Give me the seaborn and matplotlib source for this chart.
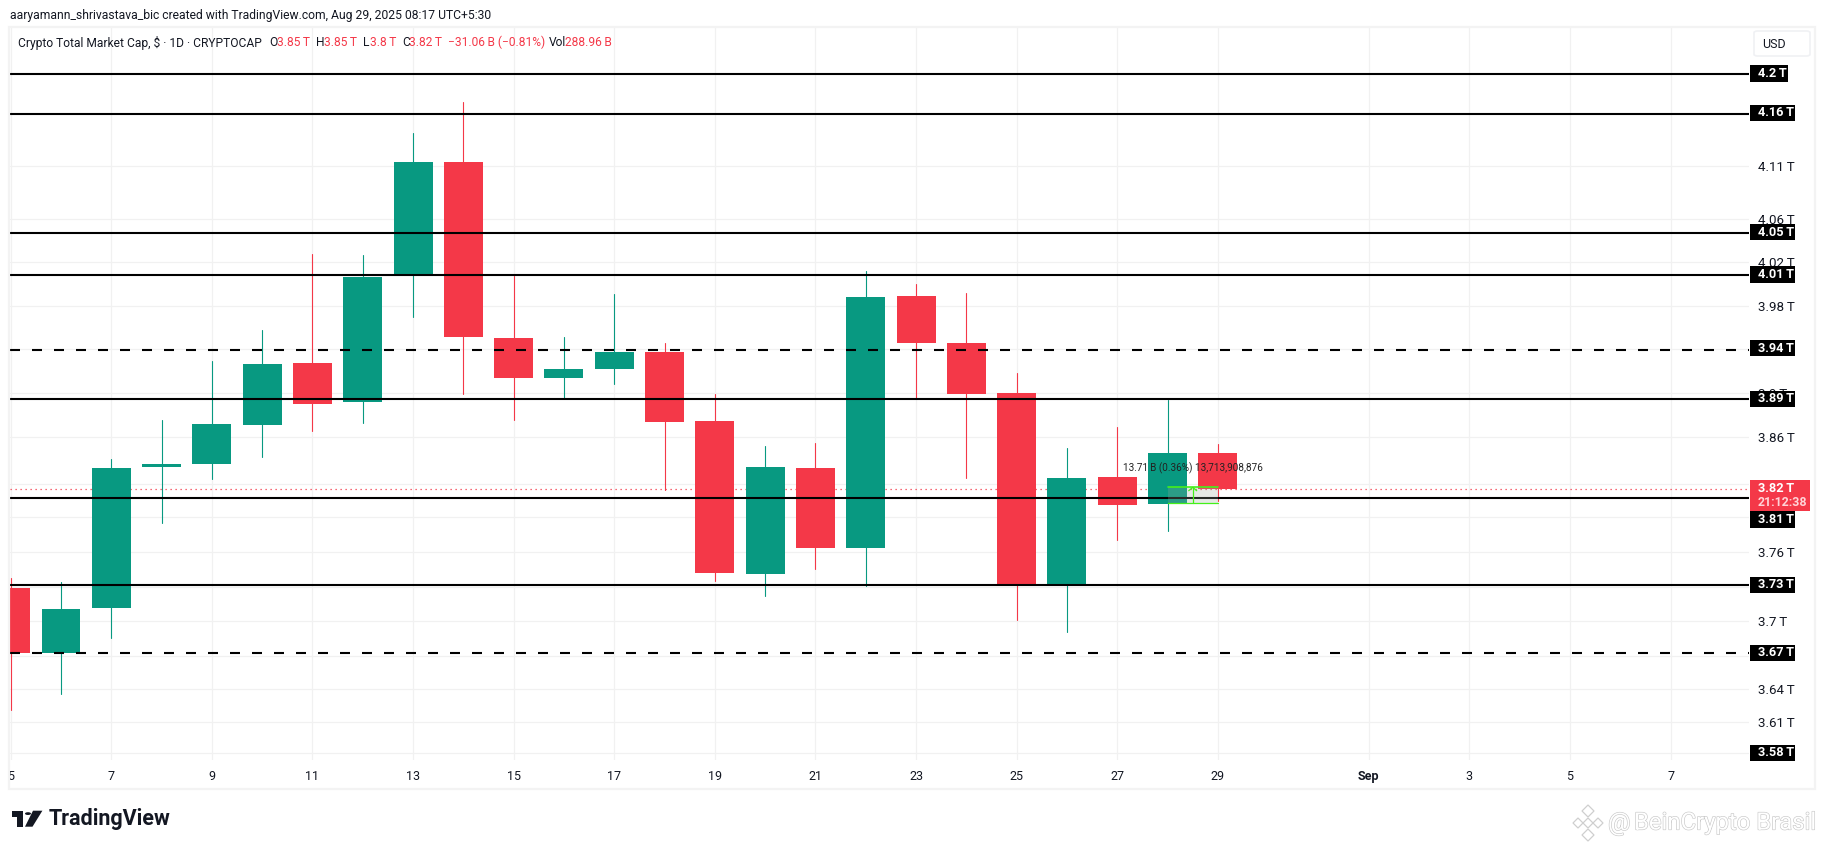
import matplotlib
matplotlib.use('Agg')
import matplotlib.pyplot as plt
import matplotlib.patheffects as pe
from matplotlib.patches import Rectangle, Polygon, Circle, FancyBboxPatch
from matplotlib.ticker import NullLocator, NullFormatter
import pandas as pd
import seaborn as sns

# candles, Aug 5 - Aug 29
days = list(range(5, 30))
opens = [3.726, 3.669, 3.708, 3.833, 3.836, 3.871, 3.928, 3.892, 4.009, 4.118, 3.951, 3.914, 3.922,
         3.938, 3.875, 3.738, 3.832, 3.7605, 3.990, 3.946, 3.900, 3.728, 3.824, 3.800, 3.846]
highs = [3.734, 3.731, 3.8405, 3.876, 3.930, 3.958, 4.030, 4.029, 4.146, 4.176, 4.009, 3.952, 3.992,
         3.946, 3.899, 3.852, 3.855, 4.014, 4.001, 3.993, 3.919, 3.850, 3.869, 3.894, 3.854]
lows = [3.620, 3.634, 3.6825, 3.783, 3.822, 3.842, 3.866, 3.873, 3.9705, 3.8996, 3.876, 3.895, 3.908,
        3.812, 3.732, 3.719, 3.742, 3.727, 3.895, 3.823, 3.698, 3.687, 3.768, 3.776, 3.8025]
closes = [3.669, 3.707, 3.832, 3.836, 3.872, 3.927, 3.890, 4.008, 4.118, 3.952, 3.914, 3.9225, 3.938,
          3.874, 3.739, 3.833, 3.7605, 3.989, 3.946, 3.899, 3.727, 3.823, 3.799, 3.846, 3.8136]

# horizontal levels drawn on the chart
levels = [4.204, 4.164, 4.05, 4.01, 3.94, 3.895, 3.805, 3.728, 3.669]
level_names = ['4.2', '4.16', '4.05', '4.01', '3.94', '3.89', '3.81', '3.73', '3.67']
level_dashed = [False, False, False, False, True, False, False, False, True]
last_price = 3.813

# price scale, blank ones sit fully behind a tag
price_ticks = [4.1137, 4.0628, 4.022, 3.9807, 3.9407, 3.9001, 3.8601, 3.8178, 3.7883, 3.7572, 3.7265,
               3.6968, 3.6666, 3.6383, 3.6102, 3.584]
price_labels = ['4.11', '4.06', '4.02', '3.98', '', '3.9', '3.86', '3.82', '', '3.76', '',
                '3.7', '', '3.64', '3.61', '']

# time scale, Sep 1 is day 32
date_ticks = [5, 7, 9, 11, 13, 15, 17, 19, 21, 23, 25, 27, 29, 32, 34, 36, 38]
date_labels = ['5', '7', '9', '11', '13', '15', '17', '19', '21', '23', '25', '27', '29', 'Sep', '3', '5', '7']

# measure tool between Aug 28 and Aug 29
measure_low = 3.8007
measure_high = 3.8147
measure_days = [28, 29]

GREEN = '#089981'
RED = '#f43848'
INK = '#131722'
W, H = 1825, 849

sns.set_theme(style='white')
plt.rcParams['font.family'] = ['Roboto', 'DejaVu Sans']

fig = plt.figure(figsize=(W / 100, H / 100), dpi=100, facecolor='white')
ax = fig.add_axes([10 / W, 1 - 760 / H, (1749 - 10) / W, (760 - 27) / H])

ax.set_yscale('log')
ax.set_ylim(3.5781, 4.2503)
ax.set_xlim(4.986, 39.56)

# wicks
rows = []
for d, o, h, l, c in zip(days, opens, highs, lows, closes):
    side = 'up' if c >= o else 'down'
    rows.append({'day': d, 'price': l, 'side': side})
    rows.append({'day': d, 'price': h, 'side': side})
wicks = pd.DataFrame(rows)
sns.lineplot(data=wicks, x='day', y='price', hue='side', units='day', estimator=None,
             palette={'up': GREEN, 'down': RED}, legend=False, lw=0.8, ax=ax, zorder=2)

# bodies
for d, o, c in zip(days, opens, closes):
    ax.bar(d, abs(c - o), bottom=min(o, c), width=0.775, color=GREEN if c >= o else RED,
           linewidth=0, zorder=3)

ax.axhline(last_price, color=RED, lw=0.9, ls=(0, (1, 3)), zorder=1.5)

for v, dashed in zip(levels, level_dashed):
    ax.axhline(v, color='black', lw=1.5, ls=(0, (4.8, 5.76)) if dashed else '-', zorder=4)

# measure tool
ax.fill_between(measure_days, measure_low, measure_high, color='#9aa89a', alpha=0.25, lw=0, zorder=5)
ax.plot(measure_days, [measure_low, measure_low], color='#44f01a', lw=0.9, zorder=5)
ax.plot(measure_days, [measure_high, measure_high], color='#44f01a', lw=1.2, zorder=5)
ax.plot([28.5, 28.5], [measure_low, measure_high], color='#44f01a', lw=0.9, zorder=5)
ax.plot([28.42, 28.5, 28.58], [measure_high - 0.003, measure_high, measure_high - 0.003],
        color='#44f01a', lw=0.9, zorder=5)
ax.text(28.5, 3.8323, '13.71\u2009B (0.36%) 13,713,908,876', ha='center', va='center', fontsize=7.2,
        color='#222222', zorder=6)

# axes
sns.despine(ax=ax, left=True, bottom=True, right=True, top=True)
ax.yaxis.set_minor_locator(NullLocator())
ax.yaxis.set_minor_formatter(NullFormatter())
ax.yaxis.tick_right()
ax.set_yticks(price_ticks, [s + '\u2009T' if s else '' for s in price_labels])
ax.set_xticks(date_ticks, date_labels)
ax.set_xlabel('')
ax.set_ylabel('')
ax.grid(True, color='#f1f1f1', lw=0.9)
ax.set_axisbelow(True)
ax.tick_params(axis='y', length=0, pad=6.3, labelsize=9.6, labelcolor=INK)
ax.tick_params(axis='x', length=0, pad=7, labelsize=9, labelcolor=INK)
for t in ax.get_xticklabels():
    if t.get_text() == 'Sep':
        t.set_fontweight('bold')
edge = Rectangle((9.5 / W, 0), 100 / W, 1, transform=fig.transFigure)
ax.get_xticklabels()[0].set_clip_path(edge)
ax.get_xticklabels()[0].set_clip_on(True)


def ftext(x, y, s, **kw):
    kw.setdefault('va', 'center')
    kw.setdefault('color', INK)
    kw.setdefault('fontsize', 9.6)
    return fig.text(x / W, 1 - y / H, s, **kw)


def fbox(x0, y0, x1, y1, **kw):
    kw.setdefault('linewidth', 0)
    r = Rectangle((x0 / W, 1 - y1 / H), (x1 - x0) / W, (y1 - y0) / H, transform=fig.transFigure, **kw)
    fig.add_artist(r)
    return r


# panel frame
fbox(9, 27, 1815, 789, fill=False, edgecolor='#f3f3f3', linewidth=1.6, zorder=0.5)

# price tags
tag_ys = [73.5, 113, 232, 274.5, 348, 399, 519.5, 585, 653]
for y, name in zip(tag_ys + [753], level_names + ['3.58']):
    fbox(1750, y - 8.3, 1788 if name == '4.2' else 1795, y + 8.3, facecolor='black', zorder=6)
    ftext(1758, y, name + '\u2009T', color='white', fontweight='bold', fontsize=9.2, zorder=7)

fbox(1750, 480, 1810, 511, facecolor=RED, zorder=6.5)
ftext(1758, 488.5, '3.82\u2009T', color='white', fontweight='bold', fontsize=9.2, zorder=7)
ftext(1758, 503, '21:12:38', color='#ffd3d7', fontweight='bold', fontsize=8.9, zorder=7)

# USD button
fig.add_artist(FancyBboxPatch((1754 / W, 1 - 56 / H), 56 / W, 25 / H, boxstyle='round,pad=0,rounding_size=0.002',
                              transform=fig.transFigure, fc='white', ec='#f0f1f4', lw=1.2, zorder=5))
ftext(1762, 44.5, 'USD', fontsize=9, zorder=7)

# header and legend
ftext(10, 15, 'aaryamann_shrivastava_bic created with TradingView.com, Aug 29, 2025 08:17 UTC+5:30', fontsize=8.7)
ftext(18, 42.7, 'Crypto Total Market Cap, $ \u00b7 1D \u00b7 CRYPTOCAP', fontsize=8.65)
for x, s in [(269, 'O'), (316, 'H'), (363, 'L'), (402, 'C'), (549, 'Vol')]:
    ftext(x, 42.7, s, fontsize=8.65)
for x, s in [(277, '3.85\u2009T'), (324.5, '3.85\u2009T'), (370, '3.8\u2009T'), (409.4, '3.82\u2009T'),
             (448, '\u221231.06\u2009B (\u22120.81%)'), (565, '288.96\u2009B')]:
    ftext(x, 42.7, s, fontsize=8.65, color=RED)

# TradingView logo
fbox(11.6, 810.7, 23, 816.7, facecolor=INK, zorder=3)
fbox(17, 810.7, 23, 826.7, facecolor=INK, zorder=3)
fig.add_artist(Circle((28 / W, 1 - 813.6 / H), 3 / W, transform=fig.transFigure, fc=INK, lw=0))
fig.add_artist(Polygon([(x / W, 1 - y / H) for x, y in [(33, 810.7), (42.4, 810.7), (32.5, 826.7), (25, 826.7)]],
                       transform=fig.transFigure, fc=INK, lw=0))
ftext(49, 818.5, 'TradingView', fontsize=15.5, fontweight='bold', color=INK)

# watermark
outline = [pe.withStroke(linewidth=0.9, foreground='#c8c8c8')]
ftext(1608, 823, '@', fontsize=18, color='white', path_effects=outline)
ftext(1634, 823, 'BeinCrypto Brasil', fontsize=17.2, color='white', path_effects=outline)
for cx, cy, r in [(1588, 811, 6), (1578, 823, 5), (1598, 823, 5), (1588, 835, 6), (1588, 823, 5)]:
    fig.add_artist(Polygon([((cx + dx) / W, 1 - (cy + dy) / H) for dx, dy in [(-r, 0), (0, -r), (r, 0), (0, r)]],
                           transform=fig.transFigure, fc='white', ec='#cfcfcf', lw=0.9))

fig.savefig('out.png', dpi=100)
